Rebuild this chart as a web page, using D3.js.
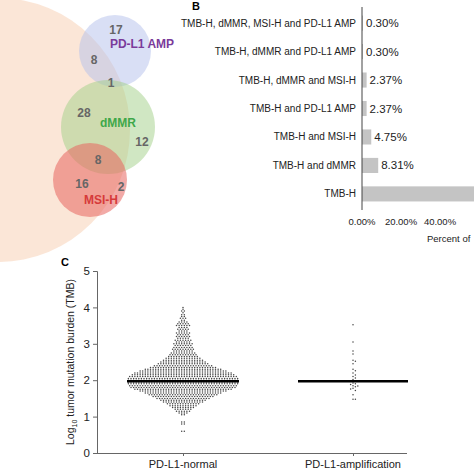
<!DOCTYPE html>
<html>
<head>
<meta charset="utf-8">
<script src="https://cdn.jsdelivr.net/npm/d3@7"></script>
<style>
  body { margin: 0; background: #fff; }
  text { font-family: "Liberation Sans", Arial, sans-serif; }
</style>
</head>
<body>
<div id="plot"></div>
<script>
let width = 474;
let height = 474;

// panel A: venn counts
let vennSets = ["TMB-H", "PD-L1 AMP", "dMMR", "MSI-H"];
let vennCounts = [17, 8, 1, 28, 12, 8, 16, 2];

// panel B: co-occurrence bars
let comboLabels = ["TMB-H, dMMR, MSI-H and PD-L1 AMP", "TMB-H, dMMR and PD-L1 AMP",
    "TMB-H, dMMR and MSI-H", "TMB-H and PD-L1 AMP", "TMB-H and MSI-H", "TMB-H and dMMR", "TMB-H"];
let comboPercents = [0.30, 0.30, 2.37, 2.37, 4.75, 8.31, 81.60];
let percentTicks = [0, 20, 40];

// panel C: log10 TMB, PD-L1-normal as rows of the dot plot (value, number of samples)
let normalLevels = [4.00, 3.95, 3.90, 3.85, 3.80, 3.75, 3.70, 3.65, 3.60, 3.55, 3.50, 3.45, 3.40, 3.35,
    3.30, 3.25, 3.20, 3.15, 3.10, 3.05, 3.00, 2.95, 2.90, 2.85, 2.80, 2.75, 2.70, 2.65, 2.60, 2.55,
    2.50, 2.45, 2.40, 2.35, 2.30, 2.25, 2.20, 2.15, 2.10, 2.05, 2.00, 1.95, 1.90, 1.85, 1.80, 1.75,
    1.70, 1.65, 1.60, 1.55, 1.50, 1.45, 1.40, 1.35, 1.30, 1.25, 1.20, 1.15, 1.10, 1.05, 0.85, 0.80, 0.60];
let normalCounts = [1, 1, 2, 1, 2, 2, 3, 2, 4, 5, 6, 4, 5, 4,
    6, 5, 6, 5, 7, 6, 8, 7, 8, 9, 8, 10, 11, 12, 14, 16,
    18, 20, 23, 26, 30, 34, 38, 40, 42, 43, 43, 43, 43, 42, 41, 38,
    34, 30, 27, 24, 21, 18, 16, 13, 11, 9, 7, 6, 4, 2, 2, 2, 2];
let amplifiedValues = [3.52, 3.05, 2.80, 2.72, 2.55, 2.52, 2.45, 2.30, 2.26, 2.20, 2.14, 2.10, 2.06,
    2.02, 1.98, 1.92, 1.90, 1.88, 1.85, 1.84, 1.82, 1.78, 1.76, 1.72, 1.60, 1.48, 1.48];
let groups = ["PD-L1-normal", "PD-L1-amplification"];
let medians = [1.97, 1.97];
let tmbTicks = [0, 1, 2, 3, 4, 5];

let svg = d3.select("#plot")
    .append("svg")
    .attr("width", width)
    .attr("height", height);

// ---------- A: venn ----------
let circles = [
    {cx: -2, cy: 130, r: 132, fill: "#f9d8c2", op: 0.65},
    {cx: 115, cy: 51, r: 36, fill: "#b4c0ec", op: 0.5},
    {cx: 108, cy: 127, r: 47, fill: "#a2cf88", op: 0.5},
    {cx: 90, cy: 180, r: 37, fill: "#e8645e", op: 0.55}
];
svg.append("g").selectAll("circle")
    .data(circles)
    .join("circle")
    .attr("cx", d => d.cx)
    .attr("cy", d => d.cy)
    .attr("r", d => d.r)
    .style("fill", d => d.fill)
    .style("fill-opacity", d => d.op);

let countPos = [[116, 34], [94, 64], [111, 87], [84, 117], [142, 146], [98, 164], [82, 188], [121, 191]];
svg.append("g").selectAll("text")
    .data(vennCounts)
    .join("text")
    .attr("x", (d, i) => countPos[i][0])
    .attr("y", (d, i) => countPos[i][1])
    .attr("text-anchor", "middle")
    .style("font-size", "12px")
    .style("font-weight", "bold")
    .style("fill", "#666")
    .text(d => d);

let setLabels = [
    {t: vennSets[1], x: 142, y: 48, c: "#7a3b9a"},
    {t: vennSets[2], x: 118, y: 127, c: "#3fa84a"},
    {t: vennSets[3], x: 101, y: 204, c: "#d63a3a"}
];
setLabels.forEach(d => {
    svg.append("text")
        .attr("x", d.x).attr("y", d.y)
        .attr("text-anchor", "middle")
        .style("font-size", "12px")
        .style("font-weight", "bold")
        .style("fill", d.c)
        .text(d.t);
});

// ---------- B: bars ----------
let xPct = d3.scaleLinear().domain([0, 40]).range([362, 440]);
let yCombo = d3.scaleBand().domain(comboLabels).range([9, 208]).paddingInner(0.47).paddingOuter(0.23);

svg.append("text").attr("x", 192).attr("y", 10)
    .style("font-size", "11px").style("font-weight", "bold").text("B");

svg.append("g").selectAll("rect")
    .data(comboPercents)
    .join("rect")
    .attr("x", xPct(0))
    .attr("y", (d, i) => yCombo(comboLabels[i]))
    .attr("width", d => Math.max(1, xPct(d) - xPct(0)))
    .attr("height", yCombo.bandwidth())
    .style("fill", "#c4c4c4");

svg.append("line")
    .attr("x1", xPct(0)).attr("x2", xPct(0))
    .attr("y1", 7).attr("y2", 210)
    .style("stroke", "#444").style("stroke-width", 1);

svg.append("g").selectAll("text")
    .data(comboLabels)
    .join("text")
    .attr("x", 356)
    .attr("y", d => yCombo(d) + yCombo.bandwidth() / 2)
    .attr("dy", "0.35em")
    .attr("text-anchor", "end")
    .style("font-size", "10px")
    .style("fill", "#222")
    .text(d => d);

svg.append("g").selectAll("text")
    .data(comboPercents.slice(0, 6))
    .join("text")
    .attr("x", d => Math.max(xPct(d), xPct(0) + 1) + 3)
    .attr("y", (d, i) => yCombo(comboLabels[i]) + yCombo.bandwidth() / 2)
    .attr("dy", "0.35em")
    .style("font-size", "11.5px")
    .style("fill", "#222")
    .text(d => d.toFixed(2) + "%");

svg.append("g").selectAll("text")
    .data(percentTicks)
    .join("text")
    .attr("x", d => xPct(d))
    .attr("y", 225)
    .attr("text-anchor", "middle")
    .style("font-size", "9.5px")
    .style("fill", "#222")
    .text(d => d.toFixed(2) + "%");

svg.append("text").attr("x", 427).attr("y", 242)
    .style("font-size", "9.5px").style("fill", "#222").text("Percent of");

// ---------- C: dot plot ----------
let yTmb = d3.scaleLinear().domain([0, 5]).range([453, 271]);
let xGroup = d3.scalePoint().domain(groups).range([183, 353]);
let axisColor = "#666";

svg.append("text").attr("x", 65).attr("y", 266)
    .attr("text-anchor", "middle")
    .style("font-size", "11px").style("font-weight", "bold").text("C");

let yAxis = svg.append("g")
    .attr("transform", "translate(97,0)")
    .call(d3.axisLeft(yTmb).tickValues(tmbTicks).tickSize(4).tickFormat(d3.format("d")));
yAxis.select(".domain").style("stroke", axisColor);
yAxis.selectAll(".tick line").style("stroke", axisColor);
yAxis.selectAll("text").style("font-size", "11.5px").style("fill", "#222")
    .style("font-family", "'Liberation Sans', Arial, sans-serif");

let xAxis = svg.append("g")
    .attr("transform", "translate(0,453)")
    .call(d3.axisBottom(xGroup).tickSize(3).tickSizeOuter(0).tickFormat(""));
xAxis.select(".domain").attr("d", "M97,0.5H407").style("stroke", axisColor);
xAxis.selectAll(".tick line").style("stroke", axisColor);

svg.append("g").selectAll("text")
    .data(groups)
    .join("text")
    .attr("x", d => xGroup(d))
    .attr("y", 468)
    .attr("text-anchor", "middle")
    .style("font-size", "11px")
    .style("fill", "#222")
    .text(d => d);

let yLab = svg.append("text")
    .attr("transform", "translate(74,362) rotate(-90)")
    .attr("text-anchor", "middle")
    .style("font-size", "10.5px")
    .style("fill", "#222");
yLab.append("tspan").text("Log");
yLab.append("tspan").attr("dy", 3).style("font-size", "7px").text("10");
yLab.append("tspan").attr("dy", -3).text(" tumor mutation burden (TMB)");

// PD-L1-normal dots, row by row
let dotGap = 2.6;
let normalDots = [];
normalLevels.forEach((v, i) => {
    let n = normalCounts[i];
    for (let k = 0; k < n; k++) {
        normalDots.push({x: xGroup(groups[0]) + (k - (n - 1) / 2) * dotGap, y: yTmb(v)});
    }
});

// PD-L1-amplification dots, simple swarm so close values sit side by side
let ampDots = [];
amplifiedValues.forEach(v => {
    let y = yTmb(v);
    let offsets = [0, 2.4, -2.4, 4.8, -4.8, 7.2, -7.2];
    let off = offsets.find(o => ampDots.every(p => Math.hypot(p.x - o, p.y - y) >= 2.3));
    ampDots.push({x: off === undefined ? 0 : off, y: y});
});
ampDots.forEach(p => p.x += xGroup(groups[1]));

svg.append("g").selectAll("circle")
    .data(normalDots.concat(ampDots))
    .join("circle")
    .attr("cx", d => d.x)
    .attr("cy", d => d.y)
    .attr("r", 0.75)
    .style("fill", "#444");

let medianSpan = [56, 55];
svg.append("g").selectAll("line")
    .data(medians)
    .join("line")
    .attr("x1", (d, i) => xGroup(groups[i]) - medianSpan[i])
    .attr("x2", (d, i) => xGroup(groups[i]) + medianSpan[i])
    .attr("y1", d => yTmb(d))
    .attr("y2", d => yTmb(d))
    .style("stroke", "#000")
    .style("stroke-width", 2.5);
</script>
</body>
</html>
